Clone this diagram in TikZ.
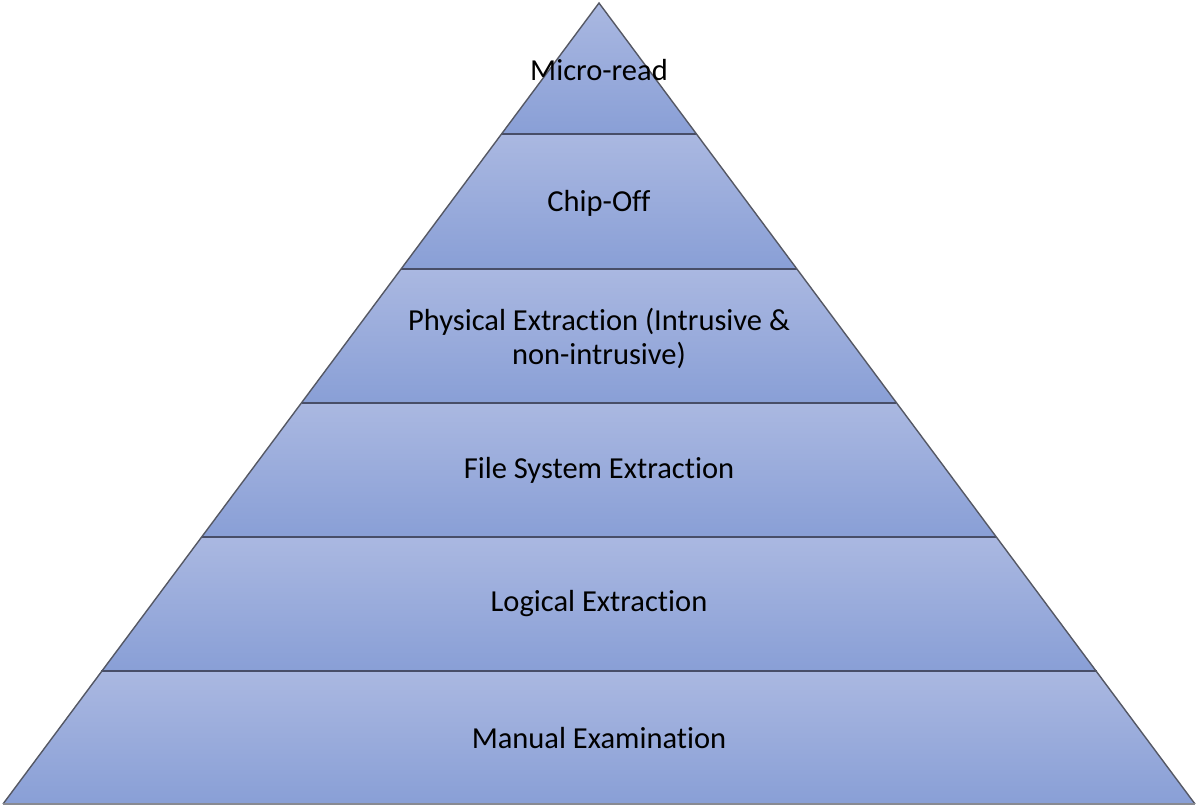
\documentclass[tikz,border=0pt]{standalone}
\usepackage{fontspec}
\setmainfont[Ligatures=NoCommon]{Carlito}
\definecolor{bandtop}{RGB}{170,184,225}
\definecolor{bandbot}{RGB}{137,159,214}
\definecolor{sepline}{RGB}{72,78,104}
\definecolor{outline}{RGB}{85,88,100}
\tikzset{
  band/.style={top color=bandtop, bottom color=bandbot, draw=none},
  sep/.style={draw=sepline, line width=2.6pt},
  edge/.style={draw=outline, line width=1.4pt, line join=miter},
  label/.style={font=\fontsize{30.5}{34}\selectfont, text=black, align=center, inner sep=0pt}
}
\begin{document}
\begin{tikzpicture}[x=1pt,y=-1pt]
\useasboundingbox (0,0) rectangle (1200,806);
% level coordinates
\coordinate (apex) at (599,3);
\coordinate (l1) at (501.6,134); \coordinate (r1) at (696.4,134);
\coordinate (l2) at (401.2,269); \coordinate (r2) at (796.8,269);
\coordinate (l3) at (301.6,403); \coordinate (r3) at (896.4,403);
\coordinate (l4) at (202,537);   \coordinate (r4) at (996,537);
\coordinate (l5) at (101.3,671); \coordinate (r5) at (1096.7,671);
\coordinate (l6) at (3,804);     \coordinate (r6) at (1195,804);
% bands
\shade[band] (apex) -- (r1) -- (l1) -- cycle;
\shade[band] (l1) -- (r1) -- (r2) -- (l2) -- cycle;
\shade[band] (l2) -- (r2) -- (r3) -- (l3) -- cycle;
\shade[band] (l3) -- (r3) -- (r4) -- (l4) -- cycle;
\shade[band] (l4) -- (r4) -- (r5) -- (l5) -- cycle;
\shade[band] (l5) -- (r5) -- (r6) -- (l6) -- cycle;
% separators
\draw[sep] (l1) -- (r1);
\draw[sep] (l2) -- (r2);
\draw[sep] (l3) -- (r3);
\draw[sep] (l4) -- (r4);
\draw[sep] (l5) -- (r5);
% outline
\draw[edge] (l6) -- (apex) -- (r6);
\draw[draw=outline!70, line width=2pt] (l6) -- (r6);
% labels
\node[label] (t1) at (599,70) {Micro-read};
\node[label] (t2) at (599,203) {Chip-Off};
\node[label] (t3) at (599,338) {Physical Extraction (Intrusive \&\\non-intrusive)};
\node[label] (t4) at (599,470) {File System Extraction};
\node[label] (t5) at (599,604) {Logical Extraction};
\node[label] (t6) at (599,738) {Manual Examination};
\end{tikzpicture}
\end{document}
